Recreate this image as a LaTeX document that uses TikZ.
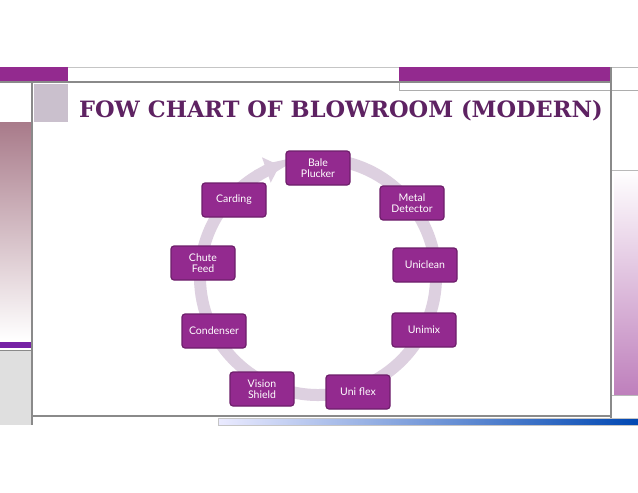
\documentclass[tikz,border=0pt]{standalone}
\usepackage{fontspec}
\setmainfont{DejaVu Serif}
\newfontfamily\nodefont{Lato}
\usetikzlibrary{arrows.meta}
\definecolor{pur}{HTML}{932A8F}
\definecolor{purdark}{HTML}{6E1F6B}
\definecolor{titlec}{HTML}{5E2262}
\definecolor{ringc}{HTML}{DDD0E0}
\definecolor{grayl}{HTML}{8A8A8A}
\tikzset{stepbox/.style={draw=purdark,line width=1.2pt,fill=pur,rounded corners=3pt,text=white,font=\nodefont\fontsize{10.5}{11.5}\selectfont,align=center,minimum width=64pt,minimum height=34pt,inner sep=2pt},
 frame/.style={draw=grayl,line width=2pt}}
\begin{document}
\begin{tikzpicture}[x=1pt,y=-1pt]
\useasboundingbox (0,0) rectangle (638,493);
\fill[white] (0,0) rectangle (638,493);
% top bars
\fill[pur] (0,67) rectangle (68,82);
\fill[pur] (399,67) rectangle (610,82);
\draw[grayl!50,line width=0.8pt] (68,67) -- (399,67);
\draw[grayl!70,line width=0.8pt] (399,82) -- (399,90) -- (638,90);
\draw[grayl!60,line width=0.8pt] (610,67) -- (638,67);
% left parts
\fill[ringc!80!gray] (34,84) rectangle (68,122);
\shade[top color=gray!70!purple!80,bottom color=white] (0,122) rectangle (31,340);
\fill[pur!80!blue] (0,342) rectangle (31,348);
\fill[gray!25] (0,350) rectangle (31,425);
\draw[grayl,line width=1pt] (0,350) -- (31,350);
% right gradient
\shade[top color=white,bottom color=pur!60] (614,170) rectangle (638,395);
\draw[grayl!60,line width=0.8pt] (611,170) -- (638,170);
\draw[grayl!60,line width=0.8pt] (611,395) -- (638,395);
% frame lines
\draw[frame] (0,82) -- (611,82);
\draw[frame] (32,82) -- (32,425);
\draw[frame] (611,67) -- (611,418);
\draw[frame] (32,416) -- (611,416);
\shade[left color=blue!8,right color=blue!60!cyan!70!black] (218,418) rectangle (638,425);
\draw[grayl!50,line width=0.5pt] (218,418) rectangle (638,425);
% title
\node[font=\bfseries\fontsize{22.5}{26}\selectfont,text=titlec] (title) at (341,111) {FOW CHART OF BLOWROOM (MODERN)};
% ring
\coordinate (c) at (318,277);
\draw[ringc,line width=12pt] (c) ++(-85:118) arc[start angle=-85,end angle=240,radius=118];
\draw[ringc,line width=12pt,-{Triangle[length=14pt,width=26pt]}] (c) ++(-121:118) arc[start angle=-121,end angle=-109,radius=118];
% nodes
\node[stepbox] (n1) at (318,168) {Bale\\Plucker};
\node[stepbox] (n2) at (412,203) {Metal\\Detector};
\node[stepbox] (n3) at (425,265) {Uniclean};
\node[stepbox] (n4) at (424,330) {Unimix};
\node[stepbox] (n5) at (358,392) {Uni flex};
\node[stepbox] (n6) at (262,389) {Vision\\Shield};
\node[stepbox] (n7) at (214,331) {Condenser};
\node[stepbox] (n8) at (203,263) {Chute\\Feed};
\node[stepbox] (n9) at (234,200) {Carding};
\end{tikzpicture}
\end{document}
